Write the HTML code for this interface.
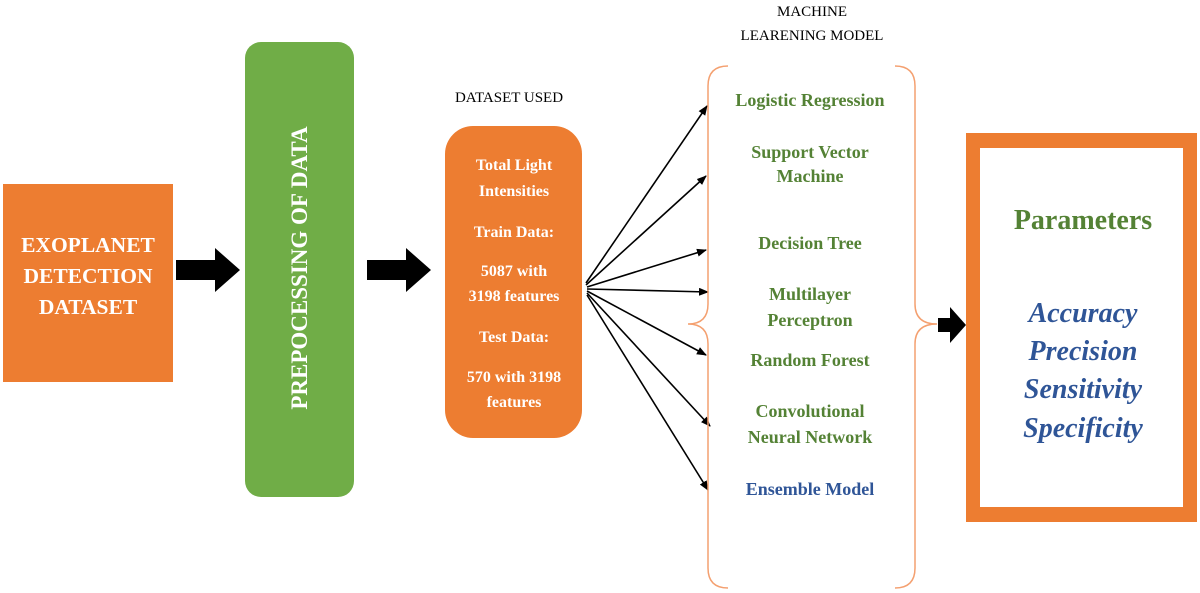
<!DOCTYPE html>
<html><head><style>
body{margin:0;background:#fff;}
svg{display:block}
text{font-family:"Liberation Serif",serif;font-weight:bold}
</style></head><body>
<svg width="1200" height="593" viewBox="0 0 1200 593">
<defs><marker id="ah" markerWidth="10" markerHeight="8" refX="9" refY="4" orient="auto" markerUnits="userSpaceOnUse"><path d="M0,0 L10,4 L0,8z" fill="#000"/></marker></defs>
<rect x="3" y="184" width="170" height="198" fill="#ED7D31"/>
<text fill="#fff" font-size="21.5" text-anchor="middle"><tspan x="88" y="252">EXOPLANET</tspan><tspan x="88" y="283">DETECTION</tspan><tspan x="88" y="314">DATASET</tspan></text>
<path d="M176,260 H215 V248 L240,270 L215,292 V280 H176z" fill="#000"/>
<rect x="245" y="42" width="109" height="455" rx="16" fill="#70AD47"/>
<text fill="#fff" font-size="23" text-anchor="middle" transform="translate(307,268) rotate(-90)">PREPOCESSING OF DATA</text>
<path d="M367,260 H406 V248 L431,270 L406,292 V280 H367z" fill="#000"/>
<text x="509" y="102" font-size="15" text-anchor="middle" style="font-weight:normal">DATASET USED</text>
<rect x="445" y="126" width="137" height="312" rx="28" fill="#ED7D31"/>
<g fill="#fff" font-size="16" text-anchor="middle">
<text x="514" y="170">Total Light</text><text x="514" y="196">Intensities</text>
<text x="514" y="237">Train Data:</text>
<text x="514" y="276">5087 with</text><text x="514" y="301">3198 features</text>
<text x="514" y="342">Test Data:</text>
<text x="514" y="382">570 with 3198</text><text x="514" y="407">features</text>
</g>
<text font-size="15" text-anchor="middle" style="font-weight:normal"><tspan x="812" y="16">MACHINE</tspan><tspan x="812" y="40">LEARENING MODEL</tspan></text>
<g stroke="#000" stroke-width="1.6" marker-end="url(#ah)">
<line x1="586" y1="283" x2="707" y2="106"/>
<line x1="586" y1="285" x2="706" y2="176"/>
<line x1="587" y1="287" x2="706" y2="250"/>
<line x1="587" y1="289" x2="708" y2="292"/>
<line x1="587" y1="291" x2="706" y2="355"/>
<line x1="587" y1="293" x2="710" y2="426"/>
<line x1="587" y1="295" x2="708" y2="490"/>
</g>
<g fill="none" stroke="#F4A070" stroke-width="1.5">
<path d="M728,66 Q708,66 708,86 V304 Q708,324 688,324 Q708,324 708,344 V568 Q708,588 728,588"/>
<path d="M895,66 Q915,66 915,86 V304 Q915,324 937,324 Q915,324 915,344 V568 Q915,588 895,588"/>
</g>
<g fill="#548235" font-size="18" text-anchor="middle">
<text x="810" y="106">Logistic Regression</text>
<text x="810" y="158">Support Vector</text><text x="810" y="182">Machine</text>
<text x="810" y="249">Decision Tree</text>
<text x="810" y="300">Multilayer</text><text x="810" y="326">Perceptron</text>
<text x="810" y="366">Random Forest</text>
<text x="810" y="417">Convolutional</text><text x="810" y="443">Neural Network</text>
<text x="810" y="495" fill="#2F5597">Ensemble Model</text>
</g>
<path d="M938,318 H950 V307 L966,325 L950,343 V332 H938z" fill="#000"/>
<rect x="966" y="133" width="231" height="389" fill="#ED7D31"/>
<rect x="980" y="148" width="203" height="359" fill="#fff"/>
<text x="1083" y="229" fill="#548235" font-size="28" text-anchor="middle">Parameters</text>
<g fill="#2F5597" font-size="28" font-style="italic" text-anchor="middle" style="font-weight:normal">
<text x="1083" y="322">Accuracy</text><text x="1083" y="360">Precision</text>
<text x="1083" y="398">Sensitivity</text><text x="1083" y="437">Specificity</text>
</g>
</svg>
</body></html>
